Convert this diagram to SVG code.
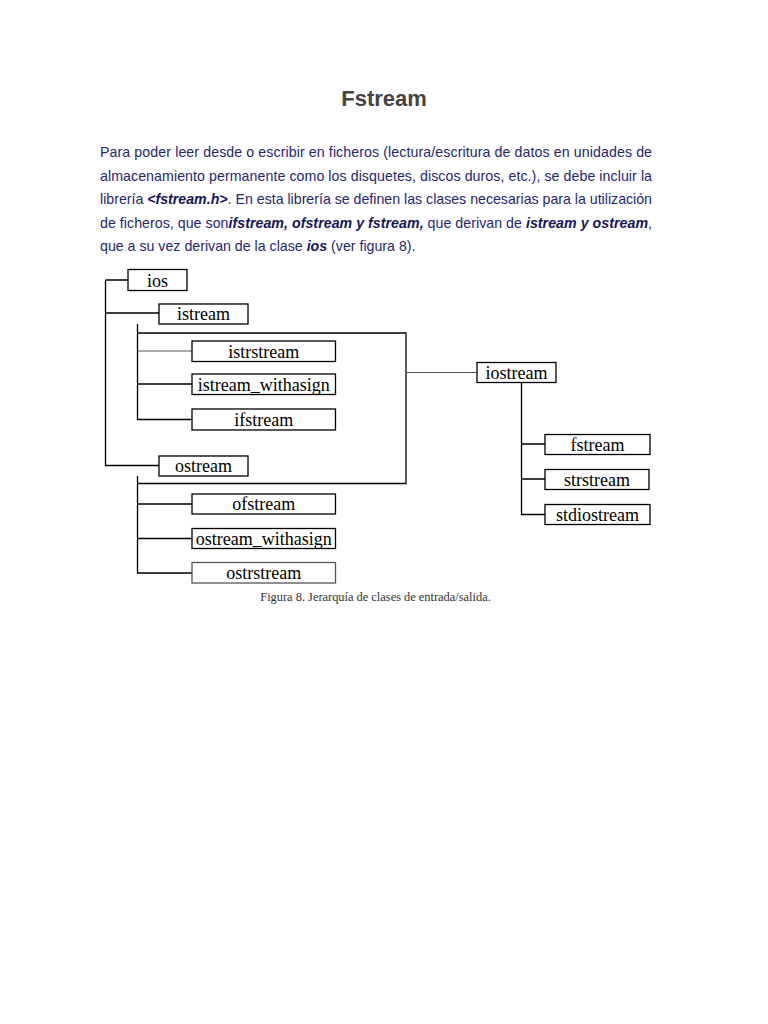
<svg xmlns="http://www.w3.org/2000/svg" width="768" height="1024" viewBox="0 0 768 1024">
<style>
.title{font-family:"Liberation Sans",Arial,sans-serif;font-size:22px;font-weight:bold;fill:#444;}
.p{font-family:"Liberation Sans",Arial,sans-serif;font-size:14.2px;fill:#262673;}
.bi{font-weight:bold;font-style:italic;fill:#14145c;}
.box{fill:#fff;stroke:#000;stroke-width:1.3;}
.lbl{font-family:"Liberation Serif","Times New Roman",serif;font-size:18px;fill:#000;text-anchor:middle;}
.ln{fill:none;stroke:#000;stroke-width:1.3;}
.thin{fill:none;stroke:#555;stroke-width:1;}
.cap{font-family:"Liberation Serif","Times New Roman",serif;font-size:12.4px;fill:#333;text-anchor:middle;}
</style>
<rect width="768" height="1024" fill="#fff"/>
<text class="title" x="384" y="106" text-anchor="middle">Fstream</text>
<g id="paragraph">
<text class="p" x="100" y="157" textLength="552" lengthAdjust="spacing">Para poder leer desde o escribir en ficheros (lectura/escritura de datos en unidades de</text>
<text class="p" x="100" y="180.5" textLength="552" lengthAdjust="spacing">almacenamiento permanente como los disquetes, discos duros, etc.), se debe incluir la</text>
<text class="p" x="100" y="204" textLength="552" lengthAdjust="spacing">librería <tspan class="bi">&lt;fstream.h&gt;</tspan>. En esta librería se definen las clases necesarias para la utilización</text>
<text class="p" x="100" y="227.5" textLength="552" lengthAdjust="spacing">de ficheros, que son<tspan class="bi">ifstream, ofstream y fstream,</tspan> que derivan de <tspan class="bi">istream y ostream</tspan>,</text>
<text class="p" x="100" y="251">que a su vez derivan de la clase <tspan class="bi">ios</tspan> (ver figura 8).</text>
</g>
<g id="connectors">
<path class="ln" d="M105.5 280 H128 M105.5 280 V465.5 H159 M105.5 313 H159"/>
<path class="ln" d="M137.5 324 V419.5 H192 M137.5 384 H192"/>
<path class="thin" d="M137.5 351 H192"/>
<path class="ln" d="M137.5 333 H406 V483.5 H137.5"/>
<path class="thin" d="M406 372.5 H477"/>
<path class="ln" d="M137.5 476 V573 H192 M137.5 504 H192 M137.5 538.5 H192"/>
<path class="ln" d="M521.5 382 V514.5 H545 M521.5 444 H545 M521.5 479 H545"/>
</g>
<g id="ios"><rect class="box" x="128" y="269.5" width="59" height="21"/><text class="lbl" x="157.5" y="286.5">ios</text></g>
<g id="istream"><rect class="box" x="159" y="304" width="89" height="20"/><text class="lbl" x="203.5" y="320">istream</text></g>
<g id="istrstream"><rect class="box" x="192" y="341" width="143.5" height="20.5"/><text class="lbl" x="263.8" y="357.5">istrstream</text></g>
<g id="istream_withasign"><rect class="box" x="192" y="374" width="143.5" height="20.5"/><text class="lbl" x="263.8" y="390.5">istream_withasign</text></g>
<g id="ifstream"><rect class="box" x="192" y="409" width="143.5" height="21"/><text class="lbl" x="263.8" y="425.5">ifstream</text></g>
<g id="ostream"><rect class="box" x="159" y="456" width="89" height="20"/><text class="lbl" x="203.5" y="472">ostream</text></g>
<g id="ofstream"><rect class="box" x="192" y="494" width="143.5" height="20"/><text class="lbl" x="263.8" y="510">ofstream</text></g>
<g id="ostream_withasign"><rect class="box" x="192" y="528.5" width="143.5" height="20"/><text class="lbl" x="263.8" y="544.5">ostream_withasign</text></g>
<g id="ostrstream"><rect class="box" x="192" y="562.5" width="143.5" height="20.5" style="stroke:#555"/><text class="lbl" x="263.8" y="579">ostrstream</text></g>
<g id="iostream"><rect class="box" x="477" y="362.5" width="79" height="20"/><text class="lbl" x="516.5" y="378.5">iostream</text></g>
<g id="fstream"><rect class="box" x="545" y="434.5" width="105" height="20"/><text class="lbl" x="597.5" y="450.5">fstream</text></g>
<g id="strstream"><rect class="box" x="545" y="469.5" width="104" height="20"/><text class="lbl" x="597" y="485.5">strstream</text></g>
<g id="stdiostream"><rect class="box" x="545" y="504.5" width="105" height="20"/><text class="lbl" x="597.5" y="520.5">stdiostream</text></g>
<text class="cap" x="375.5" y="601">Figura 8. Jerarquía de clases de entrada/salida.</text>
</svg>
